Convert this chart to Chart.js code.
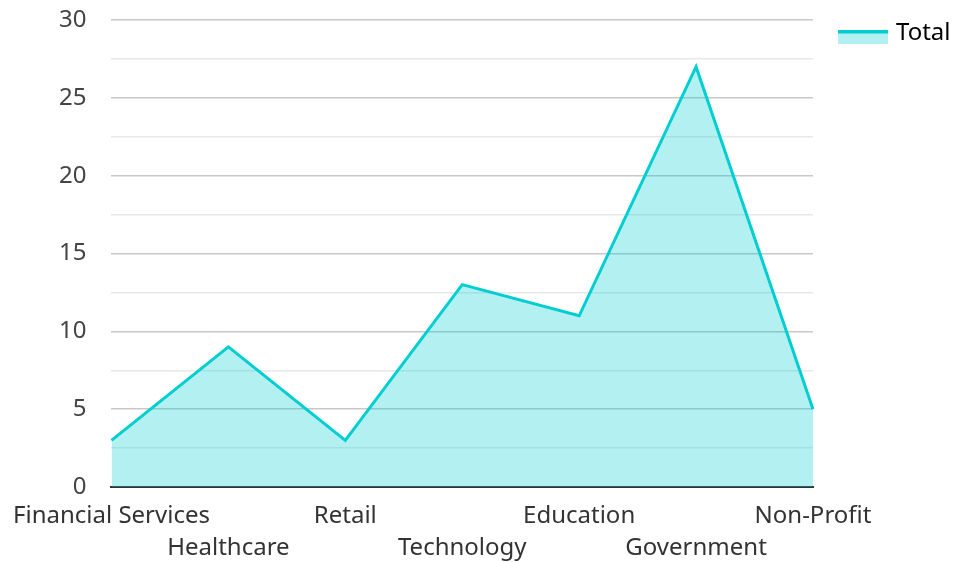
<!DOCTYPE html>
<html><head><meta charset="utf-8">
<script src="https://cdn.jsdelivr.net/npm/chart.js@4/dist/chart.umd.min.js"></script>
<style>html,body{margin:0;padding:0;background:#fff}#w{width:954px;height:562px}</style>
</head><body><div id="w"><canvas id="c"></canvas></div>
<script>
const categories = ['Financial Services','Healthcare','Retail','Technology','Education','Government','Non-Profit'];
const totals = [3, 9, 3, 13, 11, 27, 5];
const seriesName = 'Total';
const yTicks = [0, 5, 10, 15, 20, 25, 30];

const LINE = '#00CED1';
const FILL = 'rgba(0,206,209,0.3)';
const FONT = 'Noto Sans';
const labels = categories.map((c, i) => i % 2 === 0 ? [c] : ['', c]);

const legendBox = {
  id: 'legendBox',
  afterDraw(chart) {
    const lg = chart.legend;
    if (!lg || !lg.legendHitBoxes) return;
    const ctx = chart.ctx;
    lg.legendHitBoxes.forEach(b => {
      const left = b.left + 4;
      const top = b.top + 9;
      ctx.save();
      ctx.fillStyle = FILL;
      ctx.fillRect(left, top, 50, 14);
      ctx.fillStyle = LINE;
      ctx.fillRect(left, top, 50, 3.5);
      ctx.restore();
    });
  }
};

const chart = new Chart(document.getElementById('c'), {
  type: 'line',
  data: { labels, datasets: [{ label: seriesName, data: totals, borderColor: LINE, backgroundColor: FILL, borderWidth: 3, fill: true, pointRadius: 0, tension: 0 }] },
  options: {
    responsive: true, maintainAspectRatio: false, animation: false,
    layout: { padding: 0 },
    plugins: {
      tooltip: { enabled: false },
      legend: {
        position: 'right', align: 'start',
        labels: {
          color: '#333', boxWidth: 50, boxHeight: 14, padding: 21,
          font: { family: FONT, size: 24 },
          generateLabels: () => [{ text: seriesName, fillStyle: 'rgba(0,0,0,0)', strokeStyle: 'rgba(0,0,0,0)', lineWidth: 0, datasetIndex: 0 }]
        }
      }
    },
    scales: {
      x: {
        offset: false,
        grid: { display: false, drawTicks: false },
        border: { display: true, color: '#333', width: 2 },
        ticks: { color: '#333', autoSkip: false, maxRotation: 0, padding: 13, font: { family: FONT, size: 24, lineHeight: 1.35 } },
        afterFit(s) { s.height = 75; }
      },
      y: {
        min: 0, max: 30,
        border: { display: false },
        grid: { drawTicks: false, color: (ctx) => (ctx.tick && ctx.tick.value % 5 === 0) ? '#c8c8c8' : '#e8e8e8', lineWidth: 1.5 },
        ticks: { stepSize: 2.5, color: '#444', padding: 25, font: { family: FONT, size: 24 },
          callback: (v) => yTicks.includes(v) ? String(v) : '' },
        afterFit(s) { s.width = 111; s.paddingTop = 20; s.paddingBottom = 0; }
      }
    }
  },
  plugins: [legendBox]
});
const lg = chart.legend;
const origFit = lg.fit.bind(lg);
lg.fit = function () { origFit(); this.width = 141; };
chart.update();
</script></body></html>
